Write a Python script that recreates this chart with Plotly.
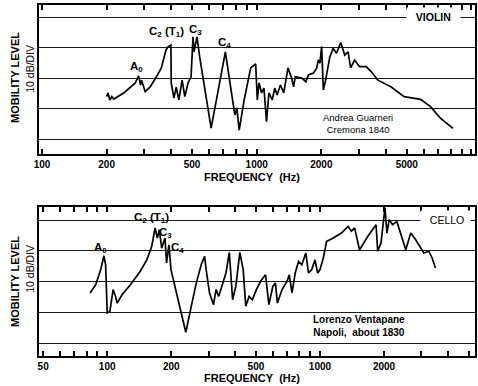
import math
import plotly.graph_objects as go

# ---------------- data (Hz, dB) ----------------
violin_freq = [200, 202.8, 207.1, 211.5, 216.0, 240.3, 272.0, 281.8, 287.7, 290.9,
               302.5, 319.0, 341.0, 359.5, 378.0, 387.3, 398.5, 399.8, 411.5, 421.7,
               433.9, 449.4, 462.4, 479.0, 494.5, 505.1, 510.5, 527.0, 542.3, 571.8,
               613.2, 658.4, 714.5, 771.7, 790.8, 808.0, 828.7, 874.0, 937.6, 988.6,
               1006.5, 1024.9, 1053.6, 1080.6, 1110.8, 1139.6, 1180.2, 1214.4, 1244.5, 1288.8,
               1336.2, 1398.6, 1448.4, 1485.9, 1511.1, 1623.0, 1692.8, 1742.2, 1836.9, 1902.3,
               1937.2, 1970.0, 2006.4, 2042.8, 2093.3, 2190.9, 2271.5, 2352.4, 2462.2, 2569.4,
               2663.4, 2738.0, 2856.5, 3012.5, 3235.0, 3411.0, 3662.5, 4217, 4857, 5797,
               6446, 7169, 8200]
violin_level = [14.0, 15.2, 12.9, 14.0, 13.2, 15.2, 18.5, 20.8, 17.8, 19.4,
                15.6, 17.2, 20.5, 23.4, 29.3, 30.4, 30.9, 18.5, 13.5, 17.1,
                12.9, 19.4, 14.0, 18.5, 20.5, 33.6, 28.7, 33.6, 27.1, 17.2,
                3.7, 15.2, 28.7, 12.9, 8.0, 10.3, 3.0, 12.9, 23.4, 24.7,
                12.9, 18.5, 15.2, 16.8, 5.8, 15.2, 12.9, 16.8, 14.5, 17.8,
                15.2, 23.4, 20.5, 17.2, 20.5, 20.1, 18.9, 21.1, 21.7, 23.4,
                26.0, 25.0, 30.4, 16.2, 19.4, 27.1, 29.8, 28.2, 31.7, 27.6,
                28.7, 23.4, 26.0, 23.8, 23.8, 22.2, 19.4, 17.2, 14.0, 13.1,
                10.7, 6.9, 3.6]

cello_freq = [83.1, 88.3, 93.2, 96.5, 98.3, 100.0, 102.9, 106.6, 109.4, 111.3,
              117.4, 128.5, 143.0, 153.5, 161.9, 167.9, 172.1, 175.8, 180.3, 186.9,
              190.1, 195.1, 199.4, 211.7, 223.3, 234.1, 248.5, 262.2, 276.6, 286.9,
              291.8, 302.6, 315.9, 324.8, 334.4, 349.0, 361.5, 375.0, 388.5, 402.4,
              420.1, 435.6, 447.9, 464.5, 481.2, 502.3, 526.0, 555.0, 575.4, 600.6,
              617.6, 631.0, 663.6, 700.0, 717.5, 738.6, 765.1, 793.5, 822.1, 858.1,
              883.2, 915.0, 947.8, 975.7, 1000.0, 1037.1, 1074.5, 1154.0, 1261.8, 1355.8,
              1404.4, 1455.0, 1534.7, 1679.6, 1835.0, 1868.7, 1936.2, 2021.0, 2064.8, 2116.3,
              2194.7, 2298.1, 2531.4, 2670.6, 2817.6, 3078.3, 3247.6, 3367.9, 3489.0]
cello_level = [16.3, 19.0, 23.9, 28.4, 25.5, 9.8, 10.3, 17.4, 15.2, 13.0,
               15.7, 19.0, 23.4, 27.1, 31.5, 37.5, 34.2, 36.9, 30.9, 34.2,
               26.1, 32.0, 23.9, 16.3, 8.7, 3.5, 12.0, 19.5, 25.5, 28.2,
               23.9, 16.3, 12.5, 17.4, 15.2, 19.5, 22.8, 29.5, 14.1, 18.5,
               29.5, 23.9, 12.0, 15.2, 14.1, 17.4, 20.1, 22.2, 12.5, 18.5,
               19.5, 13.0, 17.4, 20.1, 22.2, 16.3, 22.8, 26.6, 25.5, 29.3,
               22.8, 23.9, 27.1, 22.8, 23.9, 27.7, 33.1, 34.2, 35.8, 38.0,
               36.4, 37.5, 30.3, 34.8, 38.5, 29.9, 32.6, 44.0, 35.8, 40.2,
               38.5, 39.6, 30.4, 35.8, 33.6, 29.3, 29.9, 27.7, 24.4]

violin_major = [100, 200, 500, 1000, 2000, 5000]
violin_minor = [300, 400, 600, 700, 800, 900, 3000, 4000, 6000, 7000, 8000, 9000, 10000]
cello_major = [50, 100, 200, 500, 1000, 2000]
cello_minor = [60, 70, 80, 90, 300, 400, 600, 700, 800, 900, 3000, 4000, 5000]

FONT = "Liberation Sans"
L = math.log10

fig = go.Figure()
fig.add_trace(go.Scatter(x=violin_freq, y=violin_level, mode="lines",
                         line=dict(color="black", width=1.7), xaxis="x", yaxis="y",
                         showlegend=False, hoverinfo="skip"))
fig.add_trace(go.Scatter(x=cello_freq, y=cello_level, mode="lines",
                         line=dict(color="black", width=1.7), xaxis="x2", yaxis="y2",
                         showlegend=False, hoverinfo="skip"))


def xaxis_cfg(rng, major, minor, anchor):
    return dict(type="log", range=rng, domain=[34 / 478, 475 / 478], anchor=anchor,
                showline=True, mirror="allticks", linecolor="black", linewidth=2,
                ticks="inside", ticklen=5, tickwidth=1.5, tickcolor="black",
                tickmode="array", tickvals=major,
                ticktext=["<b>%d</b>" % t for t in major],
                minor=dict(tickmode="array", tickvals=minor, ticks="inside", ticklen=5,
                           tickwidth=1.5, tickcolor="black", showgrid=False),
                tickfont=dict(family=FONT, size=10, color="black"),
                showgrid=False, zeroline=False, fixedrange=True)


def yaxis_cfg(rng, dom, anchor):
    return dict(range=rng, domain=dom, anchor=anchor, showline=True, mirror=True,
                linecolor="black", linewidth=2, showticklabels=False, ticks="",
                showgrid=True, gridcolor="#1a1a1a", gridwidth=1.3, tick0=0, dtick=10,
                zeroline=False, fixedrange=True)


shapes = []


def vline(freq, axis_x, axis_y, y0, y1, dash="solid", ref_domain=True):
    shapes.append(dict(type="line", xref=axis_x,
                       yref=(axis_y + " domain") if ref_domain else axis_y,
                       x0=L(freq), x1=L(freq), y0=y0, y1=y1, layer="below",
                       line=dict(color="#1a1a1a", width=1.4, dash=dash)))


# violin panel vertical grid
vline(200, "x", "y", 0, 1, dash="dash")
vline(1000, "x", "y", 0, 1)
vline(2000, "x", "y", 0, 1)
vline(5000, "x", "y", -4.82, 0, ref_domain=False)
vline(5000, "x", "y", 40, 44.04, ref_domain=False)
# cello panel vertical grid
vline(100, "x2", "y2", 0, 1)
vline(200, "x2", "y2", 0, 1)
vline(500, "x2", "y2", -4.33, 20, ref_domain=False)
vline(1000, "x2", "y2", 0, 1)
vline(2000, "x2", "y2", 0, 1)

ann = []


def label(text, x, y, xr, yr, size=11, bold=True, bg=None, pad=1, align="center"):
    t = "<b>%s</b>" % text if bold else text
    d = dict(text=t, x=x, y=y, xref=xr, yref=yr, showarrow=False,
             font=dict(family=FONT, size=size, color="black"), align=align,
             xanchor="center", yanchor="middle", borderpad=pad)
    if bg:
        d["bgcolor"] = bg
    ann.append(d)


# violin annotations
label("A<sub>0</sub>", 2.4406, 23.6, "x", "y", size=11.5)
label("C<sub>2</sub> (T<sub>1</sub>)", 2.5789, 35.2, "x", "y", size=11.5)
label("C<sub>3</sub>", 2.7171, 35.8, "x", "y", size=11.5)
label("C<sub>4</sub>", 2.8508, 31.6, "x", "y", size=11.5)
label("&nbsp;&nbsp;VIOLIN&nbsp;&nbsp;", 3.8231, 40, "x", "y", size=10.5, bg="white", pad=3)
label("Andrea Guarneri<br>Cremona 1840", 3.4729, 5.3, "x", "y", size=9.5, bold=False)
# cello annotations
label("A<sub>0</sub>", 1.9693, 30.9, "x2", "y2", size=11.5)
label("C<sub>2</sub> (T<sub>1</sub>)", 2.2093, 40.6, "x2", "y2", size=11.5)
label("C<sub>3</sub>", 2.2763, 35.8, "x2", "y2", size=11.5)
label("C<sub>4</sub>", 2.3288, 31.0, "x2", "y2", size=11.5)
label("&nbsp;&nbsp;CELLO&nbsp;", 3.5893, 40, "x2", "y2", size=10.5, bg="white", pad=3, bold=False)
label("Lorenzo Ventapane<br>Napoli,&nbsp; about 1830", 3.1847, 5.4, "x2", "y2", size=10, bold=True)

# axis titles (paper coordinates)
for yc in (1 - 177 / 386, 1 - 378 / 386):
    ann.append(dict(text="<b>FREQUENCY&nbsp; (Hz)</b>", x=250 / 478, y=yc, xref="paper", yref="paper",
                    showarrow=False, font=dict(family=FONT, size=11, color="black"),
                    xanchor="center", yanchor="middle"))
for yc1, yc2 in ((1 - 77 / 386, 1 - 69 / 386), (1 - 281 / 386, 1 - 269 / 386)):
    ann.append(dict(text="<b>MOBILITY LEVEL</b>", x=10 / 478, y=yc1, xref="paper", yref="paper",
                    showarrow=False, textangle=-90, font=dict(family=FONT, size=11, color="black"),
                    xanchor="center", yanchor="middle"))
    ann.append(dict(text="10 dB/DIV", x=25 / 478, y=yc2, xref="paper", yref="paper",
                    showarrow=False, textangle=-90, font=dict(family=FONT, size=10.5, color="black"),
                    xanchor="center", yanchor="middle"))

fig.update_layout(
    width=478, height=386, autosize=False,
    margin=dict(l=0, r=0, t=0, b=0, pad=0),
    paper_bgcolor="white", plot_bgcolor="white",
    xaxis=xaxis_cfg([1.9844, 4.0167], violin_major, violin_minor, "y"),
    yaxis=yaxis_cfg([-4.82, 44.04], [1 - 154 / 386, 1 - 5 / 386], "x"),
    xaxis2=xaxis_cfg([1.6777, 3.7289], cello_major, cello_minor, "y2"),
    yaxis2=yaxis_cfg([-4.33, 44.3], [1 - 356.3 / 386, 1 - 207 / 386], "x2"),
    shapes=shapes, annotations=ann, showlegend=False,
)

fig.write_html("out.html", config={"displayModeBar": False},
               post_script="document.body.style.margin='0';document.body.style.padding='0';"
                           "document.documentElement.style.overflow='hidden';")
